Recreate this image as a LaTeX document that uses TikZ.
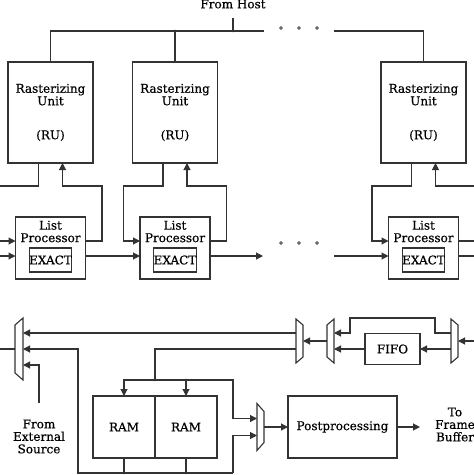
\documentclass[tikz,border=0pt]{standalone}
\usepackage{fontspec}
\setmainfont{DejaVu Serif}[FakeBold=0.5]
\usetikzlibrary{arrows.meta}
\definecolor{wiregray}{rgb}{0.2,0.2,0.2}

% trapezoid of a multiplexer, wide side right or left
\newcommand{\muxR}[2]{\draw (#1.north east) -- (#1.south east) -- ([yshift=#2]#1.south west) -- ([yshift=-#2]#1.north west) -- cycle;}
\newcommand{\muxL}[2]{\draw (#1.north west) -- (#1.south west) -- ([yshift=#2]#1.south east) -- ([yshift=-#2]#1.north east) -- cycle;}

\tikzset{
  box/.style={draw, inner sep=0pt, outer sep=0pt},
  muxnode/.style={inner sep=0pt, outer sep=0pt, minimum width=7pt},
  arr/.style={-{Triangle[length=7pt,width=7pt]}},
  ell/.style={draw, line width=.7pt}
}

\begin{document}
\begin{tikzpicture}[x=1pt, y=-1pt, line width=1.1pt, draw=wiregray, font=\fontsize{12}{12.5}\selectfont]
  \useasboundingbox (0,0) rectangle (474,475);
  \clip (0,0) rectangle (474,475);

  % rasterizing units and list processors
  \foreach \i/\cx in {1/50.5, 2/175, 3/423.5}{
    \node[box, minimum width=85pt, minimum height=101pt, align=center] (ru\i) at (\cx,112.5) {Rasterizing\\Unit\\[21.5pt](RU)};
    \node[box, minimum width=70pt, minimum height=62pt] (lp\i) at (\cx,248) {};
    \node[align=center] (lpt\i) at ([yshift=-14.5pt]lp\i.north) {List\\Processor};
    \node[box, minimum width=39pt, minimum height=24pt] (ex\i) at ([yshift=-12pt]lp\i.center) {EXACT};
    \draw[arr] ([xshift=-12pt]ru\i.south) -- ++(0,23) -| ([xshift=-16.5pt,yshift=7pt]lp\i.west) -- ([yshift=7pt]lp\i.west);
    \draw[arr] ([yshift=7pt]lp\i.east) -- ++(16.5,0) -- ++(0,-55) -| ([xshift=12pt]ru\i.south);
  }

  % host bus
  \node (host) at (233,4) {From Host};
  \coordinate (hostin) at (233,18);
  \coordinate (tap) at (233,31);
  \coordinate (busgap) at (264,31);
  \coordinate (busgo) at (334,31);
  \draw (hostin) -- (tap);
  \draw (ru1.north) |- (busgap);
  \draw (busgo) -| (ru3.north);
  \draw (ru2.north) -- (ru2.north |- tap);
  \fill[wiregray] (tap) circle (1.4pt) (ru2.north |- tap) circle (1.4pt);
  \foreach \x in {281,299,317}
    \draw[ell] (\x,28) circle (1.3pt) (\x,243) circle (1.3pt);

  % processor chain
  \coordinate (inL) at (0,256);
  \coordinate (dotsL) at (263,256);
  \coordinate (dotsR) at (334,256);
  \coordinate (outR) at (474,256);
  \draw[arr] (inL) -- ([yshift=-8pt]lp1.west);
  \draw[arr] ([yshift=-8pt]lp1.east) -- ([yshift=-8pt]lp2.west);
  \draw[arr] ([yshift=-8pt]lp2.east) -- (dotsL);
  \draw[arr] (dotsR) -- ([yshift=-8pt]lp3.west);
  \draw ([yshift=-8pt]lp3.east) -- (outR);

  % multiplexers
  \node[muxnode, minimum width=8pt, minimum height=62pt] (muxA) at (19,349) {};
  \node[muxnode, minimum height=44pt] (muxB) at (299.5,341) {};
  \node[muxnode, minimum height=44pt] (muxC) at (330.5,341) {};
  \node[muxnode, minimum height=44pt] (muxD) at (454.5,341) {};
  \node[muxnode, minimum height=47pt] (muxE) at (260.5,427) {};
  \muxR{muxA}{7pt}
  \muxL{muxB}{6pt}
  \muxR{muxC}{6pt}
  \muxL{muxD}{6pt}
  \muxL{muxE}{8pt}

  % boxes of the lower part
  \node[box, minimum width=55pt, minimum height=31pt] (fifo) at (392.5,349) {FIFO};
  \node[box, minimum width=62pt, minimum height=62pt] (ram1) at (124,427) {RAM};
  \node[box, minimum width=62pt, minimum height=62pt] (ram2) at (186,427) {RAM};
  \node[box, minimum width=109pt, minimum height=62pt] (post) at (342.5,427) {Postprocessing};
  \node[align=center] (ext) at (39,436.5) {From\\External\\Source};
  \node[align=center] (fb) at (455,424.5) {To\\Frame\\Buffer};

  % wiring
  \coordinate (inR) at (474,341);
  \draw[arr] (inR) -- (muxD.east);
  \draw[arr] ([yshift=-8pt]muxD.west) -- (fifo.east);
  \draw[arr] ([yshift=8pt]muxD.west) -- ++(-16,0) -- ++(0,-15) -| ([xshift=16pt,yshift=8pt]muxC.east) -- ([yshift=8pt]muxC.east);
  \draw[arr] (fifo.west) -- ([yshift=-8pt]muxC.east);
  \draw[arr] (muxC.west) -- (muxB.east);
  \draw[arr] ([yshift=8pt]muxB.west) -- ([yshift=16pt]muxA.east);

  \coordinate (split) at (155,380);
  \draw ([yshift=-8pt]muxB.west) -| (split);
  \draw[arr] (split) -| (ram1.north);
  \draw[arr] (split) -| (ram2.north);
  \draw[arr] (split) -- ++(78,0) |- ([yshift=8.5pt]muxE.west);
  \fill[wiregray] (split) circle (1.4pt) (ram2.north |- split) circle (1.4pt);

  \coordinate (busL) at (78,473);
  \coordinate (busR) at (233,473);
  \draw[arr] (busR) -- (busL) |- (muxA.east);
  \draw[arr] (busR) |- ([yshift=-8.5pt]muxE.west);
  \draw (ram1.south) -- (ram1.south |- busL);
  \draw (ram2.south) -- (ram2.south |- busL);
  \fill[wiregray] (ram1.south |- busL) circle (1.4pt) (ram2.south |- busL) circle (1.4pt);

  \coordinate (src) at (39,403);
  \draw[arr] (src) |- ([yshift=-16pt]muxA.east);
  \coordinate (outL) at (0,349);
  \draw (muxA.west) -- (outL);

  \coordinate (fbin) at (420,427);
  \draw[arr] (muxE.east) -- (post.west);
  \draw[arr] (post.east) -- (fbin);
\end{tikzpicture}
\end{document}
